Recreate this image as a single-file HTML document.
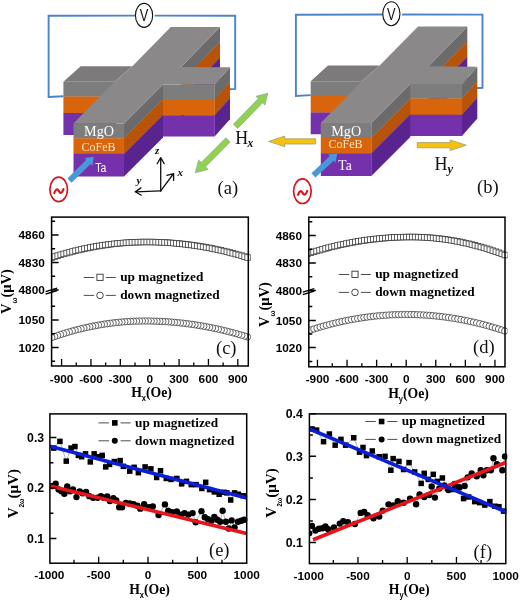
<!DOCTYPE html>
<html><head><meta charset="utf-8"><title>figure</title>
<style>html,body{margin:0;padding:0;background:#fff}svg{display:block}</style></head>
<body>
<svg width="520" height="604" viewBox="0 0 520 604">
<rect width="520" height="604" fill="#fff"/>
<g transform="translate(0,0)" fill="none" stroke="#4a84c6" stroke-width="1.9">
<polyline points="63.4,96.2 48.6,97 48.6,15.8 136,15.6"/>
<polyline points="154.8,15.6 235.2,15.7 235.2,88.9 222.3,89.7"/>
</g>
<g transform="translate(0,0)">
<ellipse cx="144.05" cy="15.4" rx="8.6" ry="12" fill="#fff" stroke="#111" stroke-width="1.1"/>
<text transform="translate(144.05,21.3) scale(0.8,1)" text-anchor="middle" font-family="Liberation Sans,sans-serif" font-size="16" fill="#111">V</text>
</g>
<g transform="translate(0,0)">
<polygon points="63.40,81.80 116.00,81.80 116.00,96.80 63.40,96.80" fill="#7e7d7d" />
<polygon points="63.40,96.50 116.00,96.50 116.00,113.30 63.40,113.30" fill="#d8640c" />
<polygon points="63.40,113.00 116.00,113.00 116.00,134.90 63.40,134.90" fill="#7531ac" />
<polygon points="220.00,27.10 181.10,66.90 181.10,81.90 220.00,42.10" fill="#6c6b6b" />
<polygon points="220.00,41.80 181.10,81.60 181.10,97.50 220.00,57.70" fill="#b7540a" />
<polygon points="220.00,57.40 181.10,97.20 181.10,118.50 220.00,78.70" fill="#59248f" />
<polygon points="214.60,84.60 230.00,67.30 230.00,82.10 214.60,99.40" fill="#6c6b6b" />
<polygon points="214.60,99.10 230.00,81.80 230.00,98.30 214.60,115.60" fill="#b7540a" />
<polygon points="214.60,115.30 230.00,98.00 230.00,119.20 214.60,136.50" fill="#59248f" />
<polygon points="162.60,84.60 214.80,84.60 214.80,99.40 162.60,99.40" fill="#7e7d7d" />
<polygon points="162.60,99.10 214.80,99.10 214.80,115.60 162.60,115.60" fill="#d8640c" />
<polygon points="162.60,115.30 214.80,115.30 214.80,136.50 162.60,136.50" fill="#7531ac" />
<polygon points="124.00,123.60 163.00,84.60 163.00,99.60 124.00,138.60" fill="#6c6b6b" />
<polygon points="124.00,138.30 163.00,99.30 163.00,115.10 124.00,154.10" fill="#b7540a" />
<polygon points="124.00,153.80 163.00,114.80 163.00,137.50 124.00,176.50" fill="#59248f" />
<polygon points="73.50,123.60 124.20,123.60 124.20,138.60 73.50,138.60" fill="#7e7d7d" />
<polygon points="73.50,138.30 124.20,138.30 124.20,154.10 73.50,154.10" fill="#d8640c" />
<polygon points="73.50,153.80 124.20,153.80 124.20,176.50 73.50,176.50" fill="#7531ac" />
<polygon points="63.40,81.80 80.70,66.20 132.30,66.20 114.40,81.80" fill="#7c7a7a" />
<polygon points="73.50,123.60 114.40,81.80 132.30,66.20 170.80,27.10 220.00,27.10 181.10,66.90 230.00,67.30 214.60,84.60 163.00,84.60 124.00,123.60" fill="#8a8888" />
</g>
<text x="99.1" y="136.2" text-anchor="middle" font-family="Liberation Serif,serif" font-size="14.2" fill="#fff">MgO</text>
<text x="98.5" y="151.4" text-anchor="middle" font-family="Liberation Serif,serif" font-size="12" fill="#fde6c8">CoFeB</text>
<text x="100.8" y="171.5" text-anchor="middle" font-family="Liberation Sans,sans-serif" font-size="12" textLength="11" lengthAdjust="spacingAndGlyphs" fill="#fff">Ta</text>
<polygon points="71.60,182.74 90.56,164.10 92.31,165.88 93.80,156.70 84.60,158.04 86.35,159.82 67.40,178.46" fill="#4a97d9" />
<ellipse cx="58.7" cy="189.4" rx="8.8" ry="12.3" fill="#fff" stroke="#d8141c" stroke-width="1.7"/>
<path d="M54.300000000000004,193.0 q2.2,-6.2 4.6,-1.9 q2.4,4.3 4.6,-1.9" fill="none" stroke="#d8141c" stroke-width="2.2" stroke-linecap="round"/>
<polygon points="237.65,128.40 262.61,102.81 264.94,105.08 267.80,93.20 255.99,96.35 258.32,98.62 233.35,124.20" fill="#92d050" stroke="#7fa8a0" stroke-width="0.7"/>
<polygon points="225.87,137.79 201.28,162.53 198.62,159.89 195.30,172.80 208.19,169.40 205.53,166.76 230.13,142.01" fill="#92d050" stroke="#7fa8a0" stroke-width="0.7"/>
<text x="235.2" y="144.2" font-family="Liberation Serif,serif" font-size="17.9" fill="#111">H</text>
<text x="247.4" y="147.4" font-family="Liberation Serif,serif" font-weight="bold" font-style="italic" font-size="11.5" fill="#111">x</text>
<text x="217.6" y="193.8" font-family="Liberation Serif,serif" font-size="18.5" fill="#111">(a)</text>
<g stroke="#111" stroke-width="1.3" fill="none" stroke-linecap="round" stroke-linejoin="round">
<path d="M160.7,190.9 V158 M157.2,163.8 L160.7,157.6 L164.2,163.8"/>
<path d="M160.7,190.9 L173.3,174 M167,175.3 L173.6,173.6 L173.6,180.4"/>
<path d="M160.7,190.9 L135.6,191.8 M141,187.9 L135.2,191.8 L141.3,195.3"/>
</g>
<text x="155" y="153.5" font-family="Liberation Serif,serif" font-weight="bold" font-style="italic" font-size="11" fill="#111">z</text>
<text x="177.5" y="176.3" font-family="Liberation Serif,serif" font-weight="bold" font-style="italic" font-size="11" fill="#111">x</text>
<text x="136.6" y="183.7" font-family="Liberation Serif,serif" font-weight="bold" font-style="italic" font-size="11" fill="#111">y</text>
<g transform="translate(247.3,-1.1)" fill="none" stroke="#4a84c6" stroke-width="1.9">
<polyline points="63.4,96.2 48.6,97 48.6,15.8 136,15.6"/>
<polyline points="154.8,15.6 235.2,15.7 235.2,88.9 222.3,89.7"/>
</g>
<g transform="translate(247.3,-1.7000000000000002)">
<ellipse cx="144.05" cy="15.4" rx="8.6" ry="12" fill="#fff" stroke="#111" stroke-width="1.1"/>
<text transform="translate(144.05,21.3) scale(0.8,1)" text-anchor="middle" font-family="Liberation Sans,sans-serif" font-size="16" fill="#111">V</text>
</g>
<g transform="translate(247.3,-0.6)">
<polygon points="63.40,81.80 116.00,81.80 116.00,96.80 63.40,96.80" fill="#7e7d7d" />
<polygon points="63.40,96.50 116.00,96.50 116.00,113.30 63.40,113.30" fill="#d8640c" />
<polygon points="63.40,113.00 116.00,113.00 116.00,134.90 63.40,134.90" fill="#7531ac" />
<polygon points="220.00,27.10 181.10,66.90 181.10,81.90 220.00,42.10" fill="#6c6b6b" />
<polygon points="220.00,41.80 181.10,81.60 181.10,97.50 220.00,57.70" fill="#b7540a" />
<polygon points="220.00,57.40 181.10,97.20 181.10,118.50 220.00,78.70" fill="#59248f" />
<polygon points="214.60,84.60 230.00,67.30 230.00,82.10 214.60,99.40" fill="#6c6b6b" />
<polygon points="214.60,99.10 230.00,81.80 230.00,98.30 214.60,115.60" fill="#b7540a" />
<polygon points="214.60,115.30 230.00,98.00 230.00,119.20 214.60,136.50" fill="#59248f" />
<polygon points="162.60,84.60 214.80,84.60 214.80,99.40 162.60,99.40" fill="#7e7d7d" />
<polygon points="162.60,99.10 214.80,99.10 214.80,115.60 162.60,115.60" fill="#d8640c" />
<polygon points="162.60,115.30 214.80,115.30 214.80,136.50 162.60,136.50" fill="#7531ac" />
<polygon points="124.00,123.60 163.00,84.60 163.00,99.60 124.00,138.60" fill="#6c6b6b" />
<polygon points="124.00,138.30 163.00,99.30 163.00,115.10 124.00,154.10" fill="#b7540a" />
<polygon points="124.00,153.80 163.00,114.80 163.00,137.50 124.00,176.50" fill="#59248f" />
<polygon points="73.50,123.60 124.20,123.60 124.20,138.60 73.50,138.60" fill="#7e7d7d" />
<polygon points="73.50,138.30 124.20,138.30 124.20,154.10 73.50,154.10" fill="#d8640c" />
<polygon points="73.50,153.80 124.20,153.80 124.20,176.50 73.50,176.50" fill="#7531ac" />
<polygon points="63.40,81.80 80.70,66.20 132.30,66.20 114.40,81.80" fill="#7c7a7a" />
<polygon points="73.50,123.60 114.40,81.80 132.30,66.20 170.80,27.10 220.00,27.10 181.10,66.90 230.00,67.30 214.60,84.60 163.00,84.60 124.00,123.60" fill="#8a8888" />
</g>
<text x="346.2" y="136.2" text-anchor="middle" font-family="Liberation Serif,serif" font-size="14.2" fill="#fff">MgO</text>
<text x="345.5" y="148.2" text-anchor="middle" font-family="Liberation Serif,serif" font-size="12" fill="#fde6c8">CoFeB</text>
<text x="345" y="170" text-anchor="middle" font-family="Liberation Serif,serif" font-size="13.6" fill="#fff">Ta</text>
<polygon points="315.43,177.61 333.71,160.79 335.41,162.63 337.20,153.50 327.96,154.53 329.65,156.37 311.37,173.19" fill="#4a97d9" />
<ellipse cx="302.4" cy="191.2" rx="8.8" ry="12.3" fill="#fff" stroke="#d8141c" stroke-width="1.7"/>
<path d="M298.0,194.79999999999998 q2.2,-6.2 4.6,-1.9 q2.4,4.3 4.6,-1.9" fill="none" stroke="#d8141c" stroke-width="2.2" stroke-linecap="round"/>
<polygon points="315.60,138.80 284.70,138.80 284.70,136.10 268.70,141.40 284.70,146.70 284.70,144.00 315.60,144.00" fill="#f4c20f" stroke="#a39a6a" stroke-width="0.8"/>
<polygon points="417.20,147.80 450.20,147.80 450.20,150.50 466.20,145.20 450.20,139.90 450.20,142.60 417.20,142.60" fill="#f4c20f" stroke="#a39a6a" stroke-width="0.8"/>
<text x="434.5" y="169.5" font-family="Liberation Serif,serif" font-size="18" fill="#111">H</text>
<text x="447.5" y="173.4" font-family="Liberation Serif,serif" font-weight="bold" font-style="italic" font-size="12.5" fill="#111">y</text>
<text x="477" y="193" font-family="Liberation Serif,serif" font-size="18.5" fill="#111">(b)</text>
<clipPath id="clipx51"><rect x="51.6" y="217.1" width="199.20000000000002" height="148.9"/></clipPath>
<g clip-path="url(#clipx51)">
<rect x="49.00" y="254.70" width="5.6" height="5.6" fill="#fff" stroke="#3a3a3a" stroke-width="0.8"/>
<rect x="51.97" y="253.75" width="5.6" height="5.6" fill="#fff" stroke="#3a3a3a" stroke-width="0.8"/>
<rect x="54.93" y="252.82" width="5.6" height="5.6" fill="#fff" stroke="#3a3a3a" stroke-width="0.8"/>
<rect x="57.90" y="251.93" width="5.6" height="5.6" fill="#fff" stroke="#3a3a3a" stroke-width="0.8"/>
<rect x="60.87" y="251.07" width="5.6" height="5.6" fill="#fff" stroke="#3a3a3a" stroke-width="0.8"/>
<rect x="63.83" y="250.24" width="5.6" height="5.6" fill="#fff" stroke="#3a3a3a" stroke-width="0.8"/>
<rect x="66.80" y="249.43" width="5.6" height="5.6" fill="#fff" stroke="#3a3a3a" stroke-width="0.8"/>
<rect x="69.77" y="248.66" width="5.6" height="5.6" fill="#fff" stroke="#3a3a3a" stroke-width="0.8"/>
<rect x="72.73" y="247.92" width="5.6" height="5.6" fill="#fff" stroke="#3a3a3a" stroke-width="0.8"/>
<rect x="75.70" y="247.21" width="5.6" height="5.6" fill="#fff" stroke="#3a3a3a" stroke-width="0.8"/>
<rect x="78.67" y="246.53" width="5.6" height="5.6" fill="#fff" stroke="#3a3a3a" stroke-width="0.8"/>
<rect x="81.63" y="245.88" width="5.6" height="5.6" fill="#fff" stroke="#3a3a3a" stroke-width="0.8"/>
<rect x="84.60" y="245.26" width="5.6" height="5.6" fill="#fff" stroke="#3a3a3a" stroke-width="0.8"/>
<rect x="87.57" y="244.67" width="5.6" height="5.6" fill="#fff" stroke="#3a3a3a" stroke-width="0.8"/>
<rect x="90.53" y="244.11" width="5.6" height="5.6" fill="#fff" stroke="#3a3a3a" stroke-width="0.8"/>
<rect x="93.50" y="243.58" width="5.6" height="5.6" fill="#fff" stroke="#3a3a3a" stroke-width="0.8"/>
<rect x="96.47" y="243.08" width="5.6" height="5.6" fill="#fff" stroke="#3a3a3a" stroke-width="0.8"/>
<rect x="99.43" y="242.61" width="5.6" height="5.6" fill="#fff" stroke="#3a3a3a" stroke-width="0.8"/>
<rect x="102.40" y="242.17" width="5.6" height="5.6" fill="#fff" stroke="#3a3a3a" stroke-width="0.8"/>
<rect x="105.37" y="241.76" width="5.6" height="5.6" fill="#fff" stroke="#3a3a3a" stroke-width="0.8"/>
<rect x="108.33" y="241.38" width="5.6" height="5.6" fill="#fff" stroke="#3a3a3a" stroke-width="0.8"/>
<rect x="111.30" y="241.03" width="5.6" height="5.6" fill="#fff" stroke="#3a3a3a" stroke-width="0.8"/>
<rect x="114.27" y="240.72" width="5.6" height="5.6" fill="#fff" stroke="#3a3a3a" stroke-width="0.8"/>
<rect x="117.23" y="240.43" width="5.6" height="5.6" fill="#fff" stroke="#3a3a3a" stroke-width="0.8"/>
<rect x="120.20" y="240.17" width="5.6" height="5.6" fill="#fff" stroke="#3a3a3a" stroke-width="0.8"/>
<rect x="123.17" y="239.94" width="5.6" height="5.6" fill="#fff" stroke="#3a3a3a" stroke-width="0.8"/>
<rect x="126.13" y="239.75" width="5.6" height="5.6" fill="#fff" stroke="#3a3a3a" stroke-width="0.8"/>
<rect x="129.10" y="239.58" width="5.6" height="5.6" fill="#fff" stroke="#3a3a3a" stroke-width="0.8"/>
<rect x="132.07" y="239.44" width="5.6" height="5.6" fill="#fff" stroke="#3a3a3a" stroke-width="0.8"/>
<rect x="135.03" y="239.34" width="5.6" height="5.6" fill="#fff" stroke="#3a3a3a" stroke-width="0.8"/>
<rect x="138.00" y="239.26" width="5.6" height="5.6" fill="#fff" stroke="#3a3a3a" stroke-width="0.8"/>
<rect x="140.97" y="239.22" width="5.6" height="5.6" fill="#fff" stroke="#3a3a3a" stroke-width="0.8"/>
<rect x="143.93" y="239.20" width="5.6" height="5.6" fill="#fff" stroke="#3a3a3a" stroke-width="0.8"/>
<rect x="146.90" y="239.21" width="5.6" height="5.6" fill="#fff" stroke="#3a3a3a" stroke-width="0.8"/>
<rect x="149.87" y="239.25" width="5.6" height="5.6" fill="#fff" stroke="#3a3a3a" stroke-width="0.8"/>
<rect x="152.83" y="239.32" width="5.6" height="5.6" fill="#fff" stroke="#3a3a3a" stroke-width="0.8"/>
<rect x="155.80" y="239.41" width="5.6" height="5.6" fill="#fff" stroke="#3a3a3a" stroke-width="0.8"/>
<rect x="158.77" y="239.53" width="5.6" height="5.6" fill="#fff" stroke="#3a3a3a" stroke-width="0.8"/>
<rect x="161.73" y="239.68" width="5.6" height="5.6" fill="#fff" stroke="#3a3a3a" stroke-width="0.8"/>
<rect x="164.70" y="239.86" width="5.6" height="5.6" fill="#fff" stroke="#3a3a3a" stroke-width="0.8"/>
<rect x="167.67" y="240.06" width="5.6" height="5.6" fill="#fff" stroke="#3a3a3a" stroke-width="0.8"/>
<rect x="170.63" y="240.28" width="5.6" height="5.6" fill="#fff" stroke="#3a3a3a" stroke-width="0.8"/>
<rect x="173.60" y="240.54" width="5.6" height="5.6" fill="#fff" stroke="#3a3a3a" stroke-width="0.8"/>
<rect x="176.57" y="240.82" width="5.6" height="5.6" fill="#fff" stroke="#3a3a3a" stroke-width="0.8"/>
<rect x="179.53" y="241.13" width="5.6" height="5.6" fill="#fff" stroke="#3a3a3a" stroke-width="0.8"/>
<rect x="182.50" y="241.46" width="5.6" height="5.6" fill="#fff" stroke="#3a3a3a" stroke-width="0.8"/>
<rect x="185.47" y="241.83" width="5.6" height="5.6" fill="#fff" stroke="#3a3a3a" stroke-width="0.8"/>
<rect x="188.43" y="242.21" width="5.6" height="5.6" fill="#fff" stroke="#3a3a3a" stroke-width="0.8"/>
<rect x="191.40" y="242.63" width="5.6" height="5.6" fill="#fff" stroke="#3a3a3a" stroke-width="0.8"/>
<rect x="194.37" y="243.07" width="5.6" height="5.6" fill="#fff" stroke="#3a3a3a" stroke-width="0.8"/>
<rect x="197.33" y="243.54" width="5.6" height="5.6" fill="#fff" stroke="#3a3a3a" stroke-width="0.8"/>
<rect x="200.30" y="244.04" width="5.6" height="5.6" fill="#fff" stroke="#3a3a3a" stroke-width="0.8"/>
<rect x="203.27" y="244.56" width="5.6" height="5.6" fill="#fff" stroke="#3a3a3a" stroke-width="0.8"/>
<rect x="206.23" y="245.11" width="5.6" height="5.6" fill="#fff" stroke="#3a3a3a" stroke-width="0.8"/>
<rect x="209.20" y="245.69" width="5.6" height="5.6" fill="#fff" stroke="#3a3a3a" stroke-width="0.8"/>
<rect x="212.17" y="246.29" width="5.6" height="5.6" fill="#fff" stroke="#3a3a3a" stroke-width="0.8"/>
<rect x="215.13" y="246.92" width="5.6" height="5.6" fill="#fff" stroke="#3a3a3a" stroke-width="0.8"/>
<rect x="218.10" y="247.58" width="5.6" height="5.6" fill="#fff" stroke="#3a3a3a" stroke-width="0.8"/>
<rect x="221.07" y="248.26" width="5.6" height="5.6" fill="#fff" stroke="#3a3a3a" stroke-width="0.8"/>
<rect x="224.03" y="248.97" width="5.6" height="5.6" fill="#fff" stroke="#3a3a3a" stroke-width="0.8"/>
<rect x="227.00" y="249.71" width="5.6" height="5.6" fill="#fff" stroke="#3a3a3a" stroke-width="0.8"/>
<rect x="229.97" y="250.48" width="5.6" height="5.6" fill="#fff" stroke="#3a3a3a" stroke-width="0.8"/>
<rect x="232.93" y="251.27" width="5.6" height="5.6" fill="#fff" stroke="#3a3a3a" stroke-width="0.8"/>
<rect x="235.90" y="252.08" width="5.6" height="5.6" fill="#fff" stroke="#3a3a3a" stroke-width="0.8"/>
<rect x="238.87" y="252.93" width="5.6" height="5.6" fill="#fff" stroke="#3a3a3a" stroke-width="0.8"/>
<rect x="241.83" y="253.80" width="5.6" height="5.6" fill="#fff" stroke="#3a3a3a" stroke-width="0.8"/>
<rect x="244.80" y="254.70" width="5.6" height="5.6" fill="#fff" stroke="#3a3a3a" stroke-width="0.8"/>
<circle cx="247.60" cy="337.00" r="3.2" fill="#fff" stroke="#3a3a3a" stroke-width="0.8"/>
<circle cx="244.68" cy="336.10" r="3.2" fill="#fff" stroke="#3a3a3a" stroke-width="0.8"/>
<circle cx="241.76" cy="335.23" r="3.2" fill="#fff" stroke="#3a3a3a" stroke-width="0.8"/>
<circle cx="238.83" cy="334.39" r="3.2" fill="#fff" stroke="#3a3a3a" stroke-width="0.8"/>
<circle cx="235.91" cy="333.57" r="3.2" fill="#fff" stroke="#3a3a3a" stroke-width="0.8"/>
<circle cx="232.99" cy="332.77" r="3.2" fill="#fff" stroke="#3a3a3a" stroke-width="0.8"/>
<circle cx="230.07" cy="332.01" r="3.2" fill="#fff" stroke="#3a3a3a" stroke-width="0.8"/>
<circle cx="227.14" cy="331.27" r="3.2" fill="#fff" stroke="#3a3a3a" stroke-width="0.8"/>
<circle cx="224.22" cy="330.55" r="3.2" fill="#fff" stroke="#3a3a3a" stroke-width="0.8"/>
<circle cx="221.30" cy="329.86" r="3.2" fill="#fff" stroke="#3a3a3a" stroke-width="0.8"/>
<circle cx="218.38" cy="329.20" r="3.2" fill="#fff" stroke="#3a3a3a" stroke-width="0.8"/>
<circle cx="215.45" cy="328.56" r="3.2" fill="#fff" stroke="#3a3a3a" stroke-width="0.8"/>
<circle cx="212.53" cy="327.95" r="3.2" fill="#fff" stroke="#3a3a3a" stroke-width="0.8"/>
<circle cx="209.61" cy="327.36" r="3.2" fill="#fff" stroke="#3a3a3a" stroke-width="0.8"/>
<circle cx="206.69" cy="326.80" r="3.2" fill="#fff" stroke="#3a3a3a" stroke-width="0.8"/>
<circle cx="203.76" cy="326.26" r="3.2" fill="#fff" stroke="#3a3a3a" stroke-width="0.8"/>
<circle cx="200.84" cy="325.75" r="3.2" fill="#fff" stroke="#3a3a3a" stroke-width="0.8"/>
<circle cx="197.92" cy="325.27" r="3.2" fill="#fff" stroke="#3a3a3a" stroke-width="0.8"/>
<circle cx="195.00" cy="324.81" r="3.2" fill="#fff" stroke="#3a3a3a" stroke-width="0.8"/>
<circle cx="192.07" cy="324.38" r="3.2" fill="#fff" stroke="#3a3a3a" stroke-width="0.8"/>
<circle cx="189.15" cy="323.98" r="3.2" fill="#fff" stroke="#3a3a3a" stroke-width="0.8"/>
<circle cx="186.23" cy="323.60" r="3.2" fill="#fff" stroke="#3a3a3a" stroke-width="0.8"/>
<circle cx="183.31" cy="323.24" r="3.2" fill="#fff" stroke="#3a3a3a" stroke-width="0.8"/>
<circle cx="180.39" cy="322.92" r="3.2" fill="#fff" stroke="#3a3a3a" stroke-width="0.8"/>
<circle cx="177.46" cy="322.61" r="3.2" fill="#fff" stroke="#3a3a3a" stroke-width="0.8"/>
<circle cx="174.54" cy="322.34" r="3.2" fill="#fff" stroke="#3a3a3a" stroke-width="0.8"/>
<circle cx="171.62" cy="322.09" r="3.2" fill="#fff" stroke="#3a3a3a" stroke-width="0.8"/>
<circle cx="168.70" cy="321.86" r="3.2" fill="#fff" stroke="#3a3a3a" stroke-width="0.8"/>
<circle cx="165.77" cy="321.67" r="3.2" fill="#fff" stroke="#3a3a3a" stroke-width="0.8"/>
<circle cx="162.85" cy="321.49" r="3.2" fill="#fff" stroke="#3a3a3a" stroke-width="0.8"/>
<circle cx="159.93" cy="321.35" r="3.2" fill="#fff" stroke="#3a3a3a" stroke-width="0.8"/>
<circle cx="157.01" cy="321.23" r="3.2" fill="#fff" stroke="#3a3a3a" stroke-width="0.8"/>
<circle cx="154.08" cy="321.13" r="3.2" fill="#fff" stroke="#3a3a3a" stroke-width="0.8"/>
<circle cx="151.16" cy="321.06" r="3.2" fill="#fff" stroke="#3a3a3a" stroke-width="0.8"/>
<circle cx="148.24" cy="321.02" r="3.2" fill="#fff" stroke="#3a3a3a" stroke-width="0.8"/>
<circle cx="145.32" cy="321.00" r="3.2" fill="#fff" stroke="#3a3a3a" stroke-width="0.8"/>
<circle cx="142.39" cy="321.01" r="3.2" fill="#fff" stroke="#3a3a3a" stroke-width="0.8"/>
<circle cx="139.47" cy="321.05" r="3.2" fill="#fff" stroke="#3a3a3a" stroke-width="0.8"/>
<circle cx="136.55" cy="321.13" r="3.2" fill="#fff" stroke="#3a3a3a" stroke-width="0.8"/>
<circle cx="133.63" cy="321.24" r="3.2" fill="#fff" stroke="#3a3a3a" stroke-width="0.8"/>
<circle cx="130.70" cy="321.38" r="3.2" fill="#fff" stroke="#3a3a3a" stroke-width="0.8"/>
<circle cx="127.78" cy="321.55" r="3.2" fill="#fff" stroke="#3a3a3a" stroke-width="0.8"/>
<circle cx="124.86" cy="321.76" r="3.2" fill="#fff" stroke="#3a3a3a" stroke-width="0.8"/>
<circle cx="121.94" cy="322.00" r="3.2" fill="#fff" stroke="#3a3a3a" stroke-width="0.8"/>
<circle cx="119.01" cy="322.27" r="3.2" fill="#fff" stroke="#3a3a3a" stroke-width="0.8"/>
<circle cx="116.09" cy="322.57" r="3.2" fill="#fff" stroke="#3a3a3a" stroke-width="0.8"/>
<circle cx="113.17" cy="322.91" r="3.2" fill="#fff" stroke="#3a3a3a" stroke-width="0.8"/>
<circle cx="110.25" cy="323.28" r="3.2" fill="#fff" stroke="#3a3a3a" stroke-width="0.8"/>
<circle cx="107.33" cy="323.68" r="3.2" fill="#fff" stroke="#3a3a3a" stroke-width="0.8"/>
<circle cx="104.40" cy="324.11" r="3.2" fill="#fff" stroke="#3a3a3a" stroke-width="0.8"/>
<circle cx="101.48" cy="324.58" r="3.2" fill="#fff" stroke="#3a3a3a" stroke-width="0.8"/>
<circle cx="98.56" cy="325.08" r="3.2" fill="#fff" stroke="#3a3a3a" stroke-width="0.8"/>
<circle cx="95.64" cy="325.61" r="3.2" fill="#fff" stroke="#3a3a3a" stroke-width="0.8"/>
<circle cx="92.71" cy="326.18" r="3.2" fill="#fff" stroke="#3a3a3a" stroke-width="0.8"/>
<circle cx="89.79" cy="326.77" r="3.2" fill="#fff" stroke="#3a3a3a" stroke-width="0.8"/>
<circle cx="86.87" cy="327.40" r="3.2" fill="#fff" stroke="#3a3a3a" stroke-width="0.8"/>
<circle cx="83.95" cy="328.07" r="3.2" fill="#fff" stroke="#3a3a3a" stroke-width="0.8"/>
<circle cx="81.02" cy="328.76" r="3.2" fill="#fff" stroke="#3a3a3a" stroke-width="0.8"/>
<circle cx="78.10" cy="329.49" r="3.2" fill="#fff" stroke="#3a3a3a" stroke-width="0.8"/>
<circle cx="75.18" cy="330.25" r="3.2" fill="#fff" stroke="#3a3a3a" stroke-width="0.8"/>
<circle cx="72.26" cy="331.04" r="3.2" fill="#fff" stroke="#3a3a3a" stroke-width="0.8"/>
<circle cx="69.33" cy="331.86" r="3.2" fill="#fff" stroke="#3a3a3a" stroke-width="0.8"/>
<circle cx="66.41" cy="332.72" r="3.2" fill="#fff" stroke="#3a3a3a" stroke-width="0.8"/>
<circle cx="63.49" cy="333.61" r="3.2" fill="#fff" stroke="#3a3a3a" stroke-width="0.8"/>
<circle cx="60.57" cy="334.54" r="3.2" fill="#fff" stroke="#3a3a3a" stroke-width="0.8"/>
<circle cx="57.64" cy="335.49" r="3.2" fill="#fff" stroke="#3a3a3a" stroke-width="0.8"/>
<circle cx="54.72" cy="336.48" r="3.2" fill="#fff" stroke="#3a3a3a" stroke-width="0.8"/>
<circle cx="51.80" cy="337.50" r="3.2" fill="#fff" stroke="#3a3a3a" stroke-width="0.8"/>
</g>
<rect x="51.6" y="217.1" width="196.70000000000002" height="148.9" fill="none" stroke="#000" stroke-width="1.5"/>
<path d="M51.6,235.00h7 M51.6,262.50h7 M51.6,290.00h7 M51.6,320.00h7 M51.6,347.50h7" stroke="#000" stroke-width="1.3" fill="none"/>
<path d="M51.6,221.25h3.5 M51.6,248.75h3.5 M51.6,276.25h3.5 M51.6,306.25h3.5 M51.6,333.75h3.5 M51.6,361.25h3.5" stroke="#000" stroke-width="1.3" fill="none"/>
<path d="M61.59,366v-7 M90.96,366v-7 M120.33,366v-7 M149.70,366v-7 M179.07,366v-7 M208.44,366v-7 M237.81,366v-7" stroke="#000" stroke-width="1.3" fill="none"/>
<path d="M76.27,366v-3.5 M105.64,366v-3.5 M135.01,366v-3.5 M164.38,366v-3.5 M193.75,366v-3.5 M223.12,366v-3.5" stroke="#000" stroke-width="1.3" fill="none"/>
<text x="44.8" y="239.25" text-anchor="end" font-family="Liberation Sans,sans-serif" font-weight="bold" font-size="11.8" fill="#000">4860</text>
<text x="44.8" y="266.75" text-anchor="end" font-family="Liberation Sans,sans-serif" font-weight="bold" font-size="11.8" fill="#000">4830</text>
<text x="44.8" y="294.25" text-anchor="end" font-family="Liberation Sans,sans-serif" font-weight="bold" font-size="11.8" fill="#000">4800</text>
<text x="44.8" y="324.25" text-anchor="end" font-family="Liberation Sans,sans-serif" font-weight="bold" font-size="11.8" fill="#000">1050</text>
<text x="44.8" y="351.75" text-anchor="end" font-family="Liberation Sans,sans-serif" font-weight="bold" font-size="11.8" fill="#000">1020</text>
<text x="61.59" y="382.7" text-anchor="middle" font-family="Liberation Sans,sans-serif" font-weight="bold" font-size="11.8" fill="#000">-900</text>
<text x="90.96" y="382.7" text-anchor="middle" font-family="Liberation Sans,sans-serif" font-weight="bold" font-size="11.8" fill="#000">-600</text>
<text x="120.33" y="382.7" text-anchor="middle" font-family="Liberation Sans,sans-serif" font-weight="bold" font-size="11.8" fill="#000">-300</text>
<text x="149.70" y="382.7" text-anchor="middle" font-family="Liberation Sans,sans-serif" font-weight="bold" font-size="11.8" fill="#000">0</text>
<text x="179.07" y="382.7" text-anchor="middle" font-family="Liberation Sans,sans-serif" font-weight="bold" font-size="11.8" fill="#000">300</text>
<text x="208.44" y="382.7" text-anchor="middle" font-family="Liberation Sans,sans-serif" font-weight="bold" font-size="11.8" fill="#000">600</text>
<text x="237.81" y="382.7" text-anchor="middle" font-family="Liberation Sans,sans-serif" font-weight="bold" font-size="11.8" fill="#000">900</text>
<path d="M45.6,291.7L57.1,288.1M45.6,294.1L57.1,290.5" stroke="#000" stroke-width="1.4" fill="none"/>
<path d="M83.7,277.5H94.2M105.8,277.5H115.8M83.7,295.4H94.2M105.8,295.4H115.8" stroke="#3a3a3a" stroke-width="0.9" fill="none"/>
<rect x="96.9" y="274.2" width="6.2" height="6.2" fill="#fff" stroke="#333" stroke-width="0.9"/>
<circle cx="100" cy="295.4" r="3.3" fill="#fff" stroke="#333" stroke-width="0.9"/>
<text x="120.2" y="281.3" font-family="Liberation Serif,serif" font-weight="bold" font-size="13.3" fill="#000">up magnetized</text>
<text x="120.2" y="299.2" font-family="Liberation Serif,serif" font-weight="bold" font-size="13.3" fill="#000">down magnetized</text>
<text transform="translate(10.5,291.5) rotate(-90)" text-anchor="middle" font-family="Liberation Serif,serif" font-weight="bold" font-size="14.5" fill="#000">V<tspan font-family="Liberation Sans,sans-serif" font-size="7" dy="6">ω</tspan><tspan dy="-6">(μV)</tspan></text>
<text transform="translate(151.5,397) scale(0.915,1)" text-anchor="middle" font-family="Liberation Serif,serif" font-weight="bold" font-size="15" fill="#000">H<tspan font-family="Liberation Sans,sans-serif" font-size="8.2" dy="4">x</tspan><tspan dy="-4">(Oe)</tspan></text>
<text x="216" y="353.5" font-family="Liberation Serif,serif" font-size="18.5" fill="#111">(c)</text>
<clipPath id="clipy308"><rect x="308.8" y="217.2" width="198.7" height="149.60000000000002"/></clipPath>
<g clip-path="url(#clipy308)">
<rect x="304.80" y="250.95" width="5.6" height="5.6" fill="#fff" stroke="#3a3a3a" stroke-width="0.8"/>
<rect x="307.79" y="250.00" width="5.6" height="5.6" fill="#fff" stroke="#3a3a3a" stroke-width="0.8"/>
<rect x="310.78" y="249.07" width="5.6" height="5.6" fill="#fff" stroke="#3a3a3a" stroke-width="0.8"/>
<rect x="313.76" y="248.18" width="5.6" height="5.6" fill="#fff" stroke="#3a3a3a" stroke-width="0.8"/>
<rect x="316.75" y="247.31" width="5.6" height="5.6" fill="#fff" stroke="#3a3a3a" stroke-width="0.8"/>
<rect x="319.74" y="246.46" width="5.6" height="5.6" fill="#fff" stroke="#3a3a3a" stroke-width="0.8"/>
<rect x="322.73" y="245.65" width="5.6" height="5.6" fill="#fff" stroke="#3a3a3a" stroke-width="0.8"/>
<rect x="325.72" y="244.87" width="5.6" height="5.6" fill="#fff" stroke="#3a3a3a" stroke-width="0.8"/>
<rect x="328.70" y="244.11" width="5.6" height="5.6" fill="#fff" stroke="#3a3a3a" stroke-width="0.8"/>
<rect x="331.69" y="243.38" width="5.6" height="5.6" fill="#fff" stroke="#3a3a3a" stroke-width="0.8"/>
<rect x="334.68" y="242.68" width="5.6" height="5.6" fill="#fff" stroke="#3a3a3a" stroke-width="0.8"/>
<rect x="337.67" y="242.00" width="5.6" height="5.6" fill="#fff" stroke="#3a3a3a" stroke-width="0.8"/>
<rect x="340.65" y="241.36" width="5.6" height="5.6" fill="#fff" stroke="#3a3a3a" stroke-width="0.8"/>
<rect x="343.64" y="240.74" width="5.6" height="5.6" fill="#fff" stroke="#3a3a3a" stroke-width="0.8"/>
<rect x="346.63" y="240.15" width="5.6" height="5.6" fill="#fff" stroke="#3a3a3a" stroke-width="0.8"/>
<rect x="349.62" y="239.59" width="5.6" height="5.6" fill="#fff" stroke="#3a3a3a" stroke-width="0.8"/>
<rect x="352.61" y="239.05" width="5.6" height="5.6" fill="#fff" stroke="#3a3a3a" stroke-width="0.8"/>
<rect x="355.59" y="238.55" width="5.6" height="5.6" fill="#fff" stroke="#3a3a3a" stroke-width="0.8"/>
<rect x="358.58" y="238.07" width="5.6" height="5.6" fill="#fff" stroke="#3a3a3a" stroke-width="0.8"/>
<rect x="361.57" y="237.62" width="5.6" height="5.6" fill="#fff" stroke="#3a3a3a" stroke-width="0.8"/>
<rect x="364.56" y="237.19" width="5.6" height="5.6" fill="#fff" stroke="#3a3a3a" stroke-width="0.8"/>
<rect x="367.55" y="236.80" width="5.6" height="5.6" fill="#fff" stroke="#3a3a3a" stroke-width="0.8"/>
<rect x="370.53" y="236.43" width="5.6" height="5.6" fill="#fff" stroke="#3a3a3a" stroke-width="0.8"/>
<rect x="373.52" y="236.09" width="5.6" height="5.6" fill="#fff" stroke="#3a3a3a" stroke-width="0.8"/>
<rect x="376.51" y="235.78" width="5.6" height="5.6" fill="#fff" stroke="#3a3a3a" stroke-width="0.8"/>
<rect x="379.50" y="235.50" width="5.6" height="5.6" fill="#fff" stroke="#3a3a3a" stroke-width="0.8"/>
<rect x="382.48" y="235.24" width="5.6" height="5.6" fill="#fff" stroke="#3a3a3a" stroke-width="0.8"/>
<rect x="385.47" y="235.02" width="5.6" height="5.6" fill="#fff" stroke="#3a3a3a" stroke-width="0.8"/>
<rect x="388.46" y="234.82" width="5.6" height="5.6" fill="#fff" stroke="#3a3a3a" stroke-width="0.8"/>
<rect x="391.45" y="234.65" width="5.6" height="5.6" fill="#fff" stroke="#3a3a3a" stroke-width="0.8"/>
<rect x="394.44" y="234.50" width="5.6" height="5.6" fill="#fff" stroke="#3a3a3a" stroke-width="0.8"/>
<rect x="397.42" y="234.39" width="5.6" height="5.6" fill="#fff" stroke="#3a3a3a" stroke-width="0.8"/>
<rect x="400.41" y="234.30" width="5.6" height="5.6" fill="#fff" stroke="#3a3a3a" stroke-width="0.8"/>
<rect x="403.40" y="234.24" width="5.6" height="5.6" fill="#fff" stroke="#3a3a3a" stroke-width="0.8"/>
<rect x="406.39" y="234.21" width="5.6" height="5.6" fill="#fff" stroke="#3a3a3a" stroke-width="0.8"/>
<rect x="409.38" y="234.20" width="5.6" height="5.6" fill="#fff" stroke="#3a3a3a" stroke-width="0.8"/>
<rect x="412.36" y="234.23" width="5.6" height="5.6" fill="#fff" stroke="#3a3a3a" stroke-width="0.8"/>
<rect x="415.35" y="234.30" width="5.6" height="5.6" fill="#fff" stroke="#3a3a3a" stroke-width="0.8"/>
<rect x="418.34" y="234.41" width="5.6" height="5.6" fill="#fff" stroke="#3a3a3a" stroke-width="0.8"/>
<rect x="421.33" y="234.55" width="5.6" height="5.6" fill="#fff" stroke="#3a3a3a" stroke-width="0.8"/>
<rect x="424.32" y="234.72" width="5.6" height="5.6" fill="#fff" stroke="#3a3a3a" stroke-width="0.8"/>
<rect x="427.30" y="234.94" width="5.6" height="5.6" fill="#fff" stroke="#3a3a3a" stroke-width="0.8"/>
<rect x="430.29" y="235.19" width="5.6" height="5.6" fill="#fff" stroke="#3a3a3a" stroke-width="0.8"/>
<rect x="433.28" y="235.48" width="5.6" height="5.6" fill="#fff" stroke="#3a3a3a" stroke-width="0.8"/>
<rect x="436.27" y="235.80" width="5.6" height="5.6" fill="#fff" stroke="#3a3a3a" stroke-width="0.8"/>
<rect x="439.25" y="236.16" width="5.6" height="5.6" fill="#fff" stroke="#3a3a3a" stroke-width="0.8"/>
<rect x="442.24" y="236.56" width="5.6" height="5.6" fill="#fff" stroke="#3a3a3a" stroke-width="0.8"/>
<rect x="445.23" y="236.99" width="5.6" height="5.6" fill="#fff" stroke="#3a3a3a" stroke-width="0.8"/>
<rect x="448.22" y="237.46" width="5.6" height="5.6" fill="#fff" stroke="#3a3a3a" stroke-width="0.8"/>
<rect x="451.21" y="237.97" width="5.6" height="5.6" fill="#fff" stroke="#3a3a3a" stroke-width="0.8"/>
<rect x="454.19" y="238.52" width="5.6" height="5.6" fill="#fff" stroke="#3a3a3a" stroke-width="0.8"/>
<rect x="457.18" y="239.10" width="5.6" height="5.6" fill="#fff" stroke="#3a3a3a" stroke-width="0.8"/>
<rect x="460.17" y="239.71" width="5.6" height="5.6" fill="#fff" stroke="#3a3a3a" stroke-width="0.8"/>
<rect x="463.16" y="240.37" width="5.6" height="5.6" fill="#fff" stroke="#3a3a3a" stroke-width="0.8"/>
<rect x="466.15" y="241.06" width="5.6" height="5.6" fill="#fff" stroke="#3a3a3a" stroke-width="0.8"/>
<rect x="469.13" y="241.78" width="5.6" height="5.6" fill="#fff" stroke="#3a3a3a" stroke-width="0.8"/>
<rect x="472.12" y="242.55" width="5.6" height="5.6" fill="#fff" stroke="#3a3a3a" stroke-width="0.8"/>
<rect x="475.11" y="243.35" width="5.6" height="5.6" fill="#fff" stroke="#3a3a3a" stroke-width="0.8"/>
<rect x="478.10" y="244.19" width="5.6" height="5.6" fill="#fff" stroke="#3a3a3a" stroke-width="0.8"/>
<rect x="481.08" y="245.06" width="5.6" height="5.6" fill="#fff" stroke="#3a3a3a" stroke-width="0.8"/>
<rect x="484.07" y="245.97" width="5.6" height="5.6" fill="#fff" stroke="#3a3a3a" stroke-width="0.8"/>
<rect x="487.06" y="246.92" width="5.6" height="5.6" fill="#fff" stroke="#3a3a3a" stroke-width="0.8"/>
<rect x="490.05" y="247.90" width="5.6" height="5.6" fill="#fff" stroke="#3a3a3a" stroke-width="0.8"/>
<rect x="493.04" y="248.92" width="5.6" height="5.6" fill="#fff" stroke="#3a3a3a" stroke-width="0.8"/>
<rect x="496.02" y="249.98" width="5.6" height="5.6" fill="#fff" stroke="#3a3a3a" stroke-width="0.8"/>
<rect x="499.01" y="251.07" width="5.6" height="5.6" fill="#fff" stroke="#3a3a3a" stroke-width="0.8"/>
<rect x="502.00" y="252.20" width="5.6" height="5.6" fill="#fff" stroke="#3a3a3a" stroke-width="0.8"/>
<circle cx="307.60" cy="331.00" r="3.2" fill="#fff" stroke="#3a3a3a" stroke-width="0.8"/>
<circle cx="310.73" cy="329.97" r="3.2" fill="#fff" stroke="#3a3a3a" stroke-width="0.8"/>
<circle cx="313.86" cy="328.97" r="3.2" fill="#fff" stroke="#3a3a3a" stroke-width="0.8"/>
<circle cx="316.99" cy="328.01" r="3.2" fill="#fff" stroke="#3a3a3a" stroke-width="0.8"/>
<circle cx="320.12" cy="327.08" r="3.2" fill="#fff" stroke="#3a3a3a" stroke-width="0.8"/>
<circle cx="323.25" cy="326.18" r="3.2" fill="#fff" stroke="#3a3a3a" stroke-width="0.8"/>
<circle cx="326.38" cy="325.31" r="3.2" fill="#fff" stroke="#3a3a3a" stroke-width="0.8"/>
<circle cx="329.51" cy="324.48" r="3.2" fill="#fff" stroke="#3a3a3a" stroke-width="0.8"/>
<circle cx="332.64" cy="323.68" r="3.2" fill="#fff" stroke="#3a3a3a" stroke-width="0.8"/>
<circle cx="335.77" cy="322.92" r="3.2" fill="#fff" stroke="#3a3a3a" stroke-width="0.8"/>
<circle cx="338.90" cy="322.19" r="3.2" fill="#fff" stroke="#3a3a3a" stroke-width="0.8"/>
<circle cx="342.03" cy="321.49" r="3.2" fill="#fff" stroke="#3a3a3a" stroke-width="0.8"/>
<circle cx="345.16" cy="320.82" r="3.2" fill="#fff" stroke="#3a3a3a" stroke-width="0.8"/>
<circle cx="348.29" cy="320.19" r="3.2" fill="#fff" stroke="#3a3a3a" stroke-width="0.8"/>
<circle cx="351.42" cy="319.59" r="3.2" fill="#fff" stroke="#3a3a3a" stroke-width="0.8"/>
<circle cx="354.55" cy="319.03" r="3.2" fill="#fff" stroke="#3a3a3a" stroke-width="0.8"/>
<circle cx="357.68" cy="318.50" r="3.2" fill="#fff" stroke="#3a3a3a" stroke-width="0.8"/>
<circle cx="360.81" cy="318.00" r="3.2" fill="#fff" stroke="#3a3a3a" stroke-width="0.8"/>
<circle cx="363.94" cy="317.53" r="3.2" fill="#fff" stroke="#3a3a3a" stroke-width="0.8"/>
<circle cx="367.07" cy="317.10" r="3.2" fill="#fff" stroke="#3a3a3a" stroke-width="0.8"/>
<circle cx="370.20" cy="316.70" r="3.2" fill="#fff" stroke="#3a3a3a" stroke-width="0.8"/>
<circle cx="373.33" cy="316.33" r="3.2" fill="#fff" stroke="#3a3a3a" stroke-width="0.8"/>
<circle cx="376.46" cy="316.00" r="3.2" fill="#fff" stroke="#3a3a3a" stroke-width="0.8"/>
<circle cx="379.59" cy="315.70" r="3.2" fill="#fff" stroke="#3a3a3a" stroke-width="0.8"/>
<circle cx="382.72" cy="315.44" r="3.2" fill="#fff" stroke="#3a3a3a" stroke-width="0.8"/>
<circle cx="385.85" cy="315.20" r="3.2" fill="#fff" stroke="#3a3a3a" stroke-width="0.8"/>
<circle cx="388.98" cy="315.00" r="3.2" fill="#fff" stroke="#3a3a3a" stroke-width="0.8"/>
<circle cx="392.11" cy="314.84" r="3.2" fill="#fff" stroke="#3a3a3a" stroke-width="0.8"/>
<circle cx="395.24" cy="314.70" r="3.2" fill="#fff" stroke="#3a3a3a" stroke-width="0.8"/>
<circle cx="398.37" cy="314.60" r="3.2" fill="#fff" stroke="#3a3a3a" stroke-width="0.8"/>
<circle cx="401.50" cy="314.54" r="3.2" fill="#fff" stroke="#3a3a3a" stroke-width="0.8"/>
<circle cx="404.63" cy="314.50" r="3.2" fill="#fff" stroke="#3a3a3a" stroke-width="0.8"/>
<circle cx="407.77" cy="314.50" r="3.2" fill="#fff" stroke="#3a3a3a" stroke-width="0.8"/>
<circle cx="410.90" cy="314.54" r="3.2" fill="#fff" stroke="#3a3a3a" stroke-width="0.8"/>
<circle cx="414.03" cy="314.60" r="3.2" fill="#fff" stroke="#3a3a3a" stroke-width="0.8"/>
<circle cx="417.16" cy="314.70" r="3.2" fill="#fff" stroke="#3a3a3a" stroke-width="0.8"/>
<circle cx="420.29" cy="314.84" r="3.2" fill="#fff" stroke="#3a3a3a" stroke-width="0.8"/>
<circle cx="423.42" cy="315.00" r="3.2" fill="#fff" stroke="#3a3a3a" stroke-width="0.8"/>
<circle cx="426.55" cy="315.20" r="3.2" fill="#fff" stroke="#3a3a3a" stroke-width="0.8"/>
<circle cx="429.68" cy="315.44" r="3.2" fill="#fff" stroke="#3a3a3a" stroke-width="0.8"/>
<circle cx="432.81" cy="315.70" r="3.2" fill="#fff" stroke="#3a3a3a" stroke-width="0.8"/>
<circle cx="435.94" cy="316.00" r="3.2" fill="#fff" stroke="#3a3a3a" stroke-width="0.8"/>
<circle cx="439.07" cy="316.33" r="3.2" fill="#fff" stroke="#3a3a3a" stroke-width="0.8"/>
<circle cx="442.20" cy="316.70" r="3.2" fill="#fff" stroke="#3a3a3a" stroke-width="0.8"/>
<circle cx="445.33" cy="317.10" r="3.2" fill="#fff" stroke="#3a3a3a" stroke-width="0.8"/>
<circle cx="448.46" cy="317.53" r="3.2" fill="#fff" stroke="#3a3a3a" stroke-width="0.8"/>
<circle cx="451.59" cy="318.00" r="3.2" fill="#fff" stroke="#3a3a3a" stroke-width="0.8"/>
<circle cx="454.72" cy="318.50" r="3.2" fill="#fff" stroke="#3a3a3a" stroke-width="0.8"/>
<circle cx="457.85" cy="319.03" r="3.2" fill="#fff" stroke="#3a3a3a" stroke-width="0.8"/>
<circle cx="460.98" cy="319.59" r="3.2" fill="#fff" stroke="#3a3a3a" stroke-width="0.8"/>
<circle cx="464.11" cy="320.19" r="3.2" fill="#fff" stroke="#3a3a3a" stroke-width="0.8"/>
<circle cx="467.24" cy="320.82" r="3.2" fill="#fff" stroke="#3a3a3a" stroke-width="0.8"/>
<circle cx="470.37" cy="321.49" r="3.2" fill="#fff" stroke="#3a3a3a" stroke-width="0.8"/>
<circle cx="473.50" cy="322.19" r="3.2" fill="#fff" stroke="#3a3a3a" stroke-width="0.8"/>
<circle cx="476.63" cy="322.92" r="3.2" fill="#fff" stroke="#3a3a3a" stroke-width="0.8"/>
<circle cx="479.76" cy="323.68" r="3.2" fill="#fff" stroke="#3a3a3a" stroke-width="0.8"/>
<circle cx="482.89" cy="324.48" r="3.2" fill="#fff" stroke="#3a3a3a" stroke-width="0.8"/>
<circle cx="486.02" cy="325.31" r="3.2" fill="#fff" stroke="#3a3a3a" stroke-width="0.8"/>
<circle cx="489.15" cy="326.18" r="3.2" fill="#fff" stroke="#3a3a3a" stroke-width="0.8"/>
<circle cx="492.28" cy="327.08" r="3.2" fill="#fff" stroke="#3a3a3a" stroke-width="0.8"/>
<circle cx="495.41" cy="328.01" r="3.2" fill="#fff" stroke="#3a3a3a" stroke-width="0.8"/>
<circle cx="498.54" cy="328.97" r="3.2" fill="#fff" stroke="#3a3a3a" stroke-width="0.8"/>
<circle cx="501.67" cy="329.97" r="3.2" fill="#fff" stroke="#3a3a3a" stroke-width="0.8"/>
<circle cx="504.80" cy="331.00" r="3.2" fill="#fff" stroke="#3a3a3a" stroke-width="0.8"/>
</g>
<rect x="308.8" y="217.2" width="196.2" height="149.60000000000002" fill="none" stroke="#000" stroke-width="1.5"/>
<path d="M308.8,235.50h7 M308.8,263.00h7 M308.8,290.50h7 M308.8,320.50h7 M308.8,347.50h7" stroke="#000" stroke-width="1.3" fill="none"/>
<path d="M308.8,221.75h3.5 M308.8,249.25h3.5 M308.8,276.75h3.5 M308.8,306.50h3.5 M308.8,334.00h3.5 M308.8,361.50h3.5" stroke="#000" stroke-width="1.3" fill="none"/>
<path d="M317.46,366.8v-7 M347.04,366.8v-7 M376.62,366.8v-7 M406.20,366.8v-7 M435.78,366.8v-7 M465.36,366.8v-7 M494.94,366.8v-7" stroke="#000" stroke-width="1.3" fill="none"/>
<path d="M332.25,366.8v-3.5 M361.83,366.8v-3.5 M391.41,366.8v-3.5 M420.99,366.8v-3.5 M450.57,366.8v-3.5 M480.15,366.8v-3.5" stroke="#000" stroke-width="1.3" fill="none"/>
<text x="302" y="239.75" text-anchor="end" font-family="Liberation Sans,sans-serif" font-weight="bold" font-size="11.8" fill="#000">4860</text>
<text x="302" y="267.25" text-anchor="end" font-family="Liberation Sans,sans-serif" font-weight="bold" font-size="11.8" fill="#000">4830</text>
<text x="302" y="294.75" text-anchor="end" font-family="Liberation Sans,sans-serif" font-weight="bold" font-size="11.8" fill="#000">4800</text>
<text x="302" y="324.75" text-anchor="end" font-family="Liberation Sans,sans-serif" font-weight="bold" font-size="11.8" fill="#000">1050</text>
<text x="302" y="351.75" text-anchor="end" font-family="Liberation Sans,sans-serif" font-weight="bold" font-size="11.8" fill="#000">1020</text>
<text x="317.46" y="383.4" text-anchor="middle" font-family="Liberation Sans,sans-serif" font-weight="bold" font-size="11.8" fill="#000">-900</text>
<text x="347.04" y="383.4" text-anchor="middle" font-family="Liberation Sans,sans-serif" font-weight="bold" font-size="11.8" fill="#000">-600</text>
<text x="376.62" y="383.4" text-anchor="middle" font-family="Liberation Sans,sans-serif" font-weight="bold" font-size="11.8" fill="#000">-300</text>
<text x="406.20" y="383.4" text-anchor="middle" font-family="Liberation Sans,sans-serif" font-weight="bold" font-size="11.8" fill="#000">0</text>
<text x="435.78" y="383.4" text-anchor="middle" font-family="Liberation Sans,sans-serif" font-weight="bold" font-size="11.8" fill="#000">300</text>
<text x="465.36" y="383.4" text-anchor="middle" font-family="Liberation Sans,sans-serif" font-weight="bold" font-size="11.8" fill="#000">600</text>
<text x="494.94" y="383.4" text-anchor="middle" font-family="Liberation Sans,sans-serif" font-weight="bold" font-size="11.8" fill="#000">900</text>
<path d="M302.8,292.2L314.3,288.6M302.8,294.6L314.3,291" stroke="#000" stroke-width="1.4" fill="none"/>
<path d="M338.7,274.5H349.2M360.8,274.5H370.8M338.7,292.4H349.2M360.8,292.4H370.8" stroke="#3a3a3a" stroke-width="0.9" fill="none"/>
<rect x="351.9" y="271.2" width="6.2" height="6.2" fill="#fff" stroke="#333" stroke-width="0.9"/>
<circle cx="355" cy="292.4" r="3.3" fill="#fff" stroke="#333" stroke-width="0.9"/>
<text x="375.2" y="278.3" font-family="Liberation Serif,serif" font-weight="bold" font-size="13.3" fill="#000">up magnetized</text>
<text x="375.2" y="296.2" font-family="Liberation Serif,serif" font-weight="bold" font-size="13.3" fill="#000">down magnetized</text>
<text transform="translate(268.6,304.5) rotate(-90)" text-anchor="middle" font-family="Liberation Serif,serif" font-weight="bold" font-size="14.5" fill="#000">V<tspan font-family="Liberation Sans,sans-serif" font-size="7" dy="6">ω</tspan><tspan dy="-6">(μV)</tspan></text>
<text transform="translate(408.5,398.2) scale(0.915,1)" text-anchor="middle" font-family="Liberation Serif,serif" font-weight="bold" font-size="15" fill="#000">H<tspan font-family="Liberation Sans,sans-serif" font-size="8.2" dy="4">y</tspan><tspan dy="-4">(Oe)</tspan></text>
<text x="473" y="353.4" font-family="Liberation Serif,serif" font-size="18.5" fill="#111">(d)</text>
<clipPath id="clipe"><rect x="49.9" y="413.9" width="198.29999999999998" height="149.30000000000007"/></clipPath>
<g clip-path="url(#clipe)">
<path d="M53.8,448.1 L59.9,441.3 L66.3,461.2 L71.1,448.1 L74.9,446.5 L78.4,455.4 L81.7,456.7 L85.5,453.8 L90.3,461.9 L94.2,453.8 L98.4,456.7 L102.2,455.4 L105.7,466.9 L109.5,464.4 L114.3,461.5 L120.1,460.6 L123.4,466.3 L129.7,471.2 L134.2,467.3 L138.4,472.7 L145.1,466.9 L150.9,468.8 L156.7,477.5 L160.5,470.8 L166.3,478.5 L171.1,479.4 L176.8,478.5 L181.7,483.8 L186.5,481.3 L191.3,484.6 L196.1,484.6 L201.8,488.5 L205.7,482.3 L209.5,489.6 L214.3,491.9 L219.2,494.2 L224.0,492.3 L226.8,492.9 L230.7,500.0 L234.5,492.9 L238.4,494.2 L243.2,495.8" fill="none" stroke="#666" stroke-width="0.5"/>
<path d="M51.8,486.2 L55.7,483.7 L58.6,489.4 L61.5,491.3 L64.3,493.8 L67.2,486.5 L70.1,491.3 L73.0,489.4 L76.5,497.1 L79.7,491.3 L82.6,493.3 L86.1,491.9 L89.3,496.2 L93.2,497.7 L97.6,497.7 L100.9,496.2 L103.8,497.7 L107.2,496.5 L109.9,501.0 L113.4,498.1 L116.3,500.4 L119.2,507.3 L122.0,507.3 L125.9,502.9 L129.7,503.5 L133.6,504.2 L137.4,505.8 L140.3,508.7 L144.2,504.2 L149.0,507.3 L152.8,506.3 L158.6,515.0 L164.9,504.4 L168.2,510.8 L172.0,512.1 L176.8,511.5 L181.1,514.6 L184.5,513.1 L188.4,514.6 L192.6,513.1 L195.7,522.3 L201.5,511.2 L204.7,517.3 L208.0,519.2 L211.5,520.8 L214.3,516.9 L217.2,519.8 L220.1,521.7 L222.6,510.8 L225.9,521.7 L228.8,528.5 L231.7,520.4 L234.5,527.5 L238.0,521.7 L241.3,520.8 L244.2,519.8" fill="none" stroke="#666" stroke-width="0.5"/>
<rect x="51.02" y="445.33" width="5.5" height="5.5" fill="#000"/>
<rect x="57.17" y="438.60" width="5.5" height="5.5" fill="#000"/>
<rect x="63.52" y="458.40" width="5.5" height="5.5" fill="#000"/>
<rect x="68.33" y="445.33" width="5.5" height="5.5" fill="#000"/>
<rect x="72.17" y="443.79" width="5.5" height="5.5" fill="#000"/>
<rect x="75.63" y="452.63" width="5.5" height="5.5" fill="#000"/>
<rect x="78.90" y="453.98" width="5.5" height="5.5" fill="#000"/>
<rect x="82.75" y="451.10" width="5.5" height="5.5" fill="#000"/>
<rect x="87.56" y="459.17" width="5.5" height="5.5" fill="#000"/>
<rect x="91.40" y="451.10" width="5.5" height="5.5" fill="#000"/>
<rect x="95.63" y="453.98" width="5.5" height="5.5" fill="#000"/>
<rect x="99.48" y="452.63" width="5.5" height="5.5" fill="#000"/>
<rect x="102.94" y="464.17" width="5.5" height="5.5" fill="#000"/>
<rect x="106.79" y="461.67" width="5.5" height="5.5" fill="#000"/>
<rect x="111.60" y="458.79" width="5.5" height="5.5" fill="#000"/>
<rect x="117.37" y="457.83" width="5.5" height="5.5" fill="#000"/>
<rect x="120.63" y="463.60" width="5.5" height="5.5" fill="#000"/>
<rect x="126.98" y="468.40" width="5.5" height="5.5" fill="#000"/>
<rect x="131.40" y="464.56" width="5.5" height="5.5" fill="#000"/>
<rect x="135.63" y="469.94" width="5.5" height="5.5" fill="#000"/>
<rect x="142.37" y="464.17" width="5.5" height="5.5" fill="#000"/>
<rect x="148.13" y="466.10" width="5.5" height="5.5" fill="#000"/>
<rect x="153.90" y="474.75" width="5.5" height="5.5" fill="#000"/>
<rect x="157.75" y="468.02" width="5.5" height="5.5" fill="#000"/>
<rect x="163.52" y="475.71" width="5.5" height="5.5" fill="#000"/>
<rect x="168.33" y="476.67" width="5.5" height="5.5" fill="#000"/>
<rect x="174.10" y="475.71" width="5.5" height="5.5" fill="#000"/>
<rect x="178.90" y="481.10" width="5.5" height="5.5" fill="#000"/>
<rect x="183.71" y="478.60" width="5.5" height="5.5" fill="#000"/>
<rect x="188.52" y="481.87" width="5.5" height="5.5" fill="#000"/>
<rect x="193.33" y="481.87" width="5.5" height="5.5" fill="#000"/>
<rect x="199.10" y="485.71" width="5.5" height="5.5" fill="#000"/>
<rect x="202.94" y="479.56" width="5.5" height="5.5" fill="#000"/>
<rect x="206.79" y="486.87" width="5.5" height="5.5" fill="#000"/>
<rect x="211.60" y="489.17" width="5.5" height="5.5" fill="#000"/>
<rect x="216.40" y="491.48" width="5.5" height="5.5" fill="#000"/>
<rect x="221.21" y="489.56" width="5.5" height="5.5" fill="#000"/>
<rect x="224.10" y="490.13" width="5.5" height="5.5" fill="#000"/>
<rect x="227.94" y="497.25" width="5.5" height="5.5" fill="#000"/>
<rect x="231.79" y="490.13" width="5.5" height="5.5" fill="#000"/>
<rect x="235.63" y="491.48" width="5.5" height="5.5" fill="#000"/>
<rect x="240.44" y="493.02" width="5.5" height="5.5" fill="#000"/>
<circle cx="51.85" cy="486.15" r="3.2" fill="#000"/>
<circle cx="55.69" cy="483.65" r="3.2" fill="#000"/>
<circle cx="58.58" cy="489.42" r="3.2" fill="#000"/>
<circle cx="61.46" cy="491.35" r="3.2" fill="#000"/>
<circle cx="64.35" cy="493.85" r="3.2" fill="#000"/>
<circle cx="67.23" cy="486.54" r="3.2" fill="#000"/>
<circle cx="70.12" cy="491.35" r="3.2" fill="#000"/>
<circle cx="73.00" cy="489.42" r="3.2" fill="#000"/>
<circle cx="76.46" cy="497.12" r="3.2" fill="#000"/>
<circle cx="79.73" cy="491.35" r="3.2" fill="#000"/>
<circle cx="82.62" cy="493.27" r="3.2" fill="#000"/>
<circle cx="86.08" cy="491.92" r="3.2" fill="#000"/>
<circle cx="89.35" cy="496.15" r="3.2" fill="#000"/>
<circle cx="93.19" cy="497.69" r="3.2" fill="#000"/>
<circle cx="97.62" cy="497.69" r="3.2" fill="#000"/>
<circle cx="100.88" cy="496.15" r="3.2" fill="#000"/>
<circle cx="103.77" cy="497.69" r="3.2" fill="#000"/>
<circle cx="107.23" cy="496.54" r="3.2" fill="#000"/>
<circle cx="109.92" cy="500.96" r="3.2" fill="#000"/>
<circle cx="113.38" cy="498.08" r="3.2" fill="#000"/>
<circle cx="116.27" cy="500.38" r="3.2" fill="#000"/>
<circle cx="119.15" cy="507.31" r="3.2" fill="#000"/>
<circle cx="122.04" cy="507.31" r="3.2" fill="#000"/>
<circle cx="125.88" cy="502.88" r="3.2" fill="#000"/>
<circle cx="129.73" cy="503.46" r="3.2" fill="#000"/>
<circle cx="133.58" cy="504.23" r="3.2" fill="#000"/>
<circle cx="137.42" cy="505.77" r="3.2" fill="#000"/>
<circle cx="140.31" cy="508.65" r="3.2" fill="#000"/>
<circle cx="144.15" cy="504.23" r="3.2" fill="#000"/>
<circle cx="148.96" cy="507.31" r="3.2" fill="#000"/>
<circle cx="152.81" cy="506.35" r="3.2" fill="#000"/>
<circle cx="158.58" cy="515.00" r="3.2" fill="#000"/>
<circle cx="164.92" cy="504.42" r="3.2" fill="#000"/>
<circle cx="168.19" cy="510.77" r="3.2" fill="#000"/>
<circle cx="172.04" cy="512.12" r="3.2" fill="#000"/>
<circle cx="176.85" cy="511.54" r="3.2" fill="#000"/>
<circle cx="181.08" cy="514.62" r="3.2" fill="#000"/>
<circle cx="184.54" cy="513.08" r="3.2" fill="#000"/>
<circle cx="188.38" cy="514.62" r="3.2" fill="#000"/>
<circle cx="192.62" cy="513.08" r="3.2" fill="#000"/>
<circle cx="195.69" cy="522.31" r="3.2" fill="#000"/>
<circle cx="201.46" cy="511.15" r="3.2" fill="#000"/>
<circle cx="204.73" cy="517.31" r="3.2" fill="#000"/>
<circle cx="208.00" cy="519.23" r="3.2" fill="#000"/>
<circle cx="211.46" cy="520.77" r="3.2" fill="#000"/>
<circle cx="214.35" cy="516.92" r="3.2" fill="#000"/>
<circle cx="217.23" cy="519.81" r="3.2" fill="#000"/>
<circle cx="220.12" cy="521.73" r="3.2" fill="#000"/>
<circle cx="222.62" cy="510.77" r="3.2" fill="#000"/>
<circle cx="225.88" cy="521.73" r="3.2" fill="#000"/>
<circle cx="228.77" cy="528.46" r="3.2" fill="#000"/>
<circle cx="231.65" cy="520.38" r="3.2" fill="#000"/>
<circle cx="234.54" cy="527.50" r="3.2" fill="#000"/>
<circle cx="238.00" cy="521.73" r="3.2" fill="#000"/>
<circle cx="241.27" cy="520.77" r="3.2" fill="#000"/>
<circle cx="244.15" cy="519.81" r="3.2" fill="#000"/>
<line x1="49.9" y1="486" x2="246.7" y2="533.5" stroke="#e6141b" stroke-width="3.6"/>
<line x1="49.9" y1="446.2" x2="246.7" y2="498" stroke="#0b1fd6" stroke-width="3.6"/>
</g>
<rect x="49.9" y="413.9" width="196.79999999999998" height="149.30000000000007" fill="none" stroke="#000" stroke-width="1.5"/>
<path d="M49.9,437.50h6.5 M49.9,488.00h6.5 M49.9,538.50h6.5" stroke="#000" stroke-width="1.3" fill="none"/>
<path d="M49.9,462.75h3.5 M49.9,513.25h3.5" stroke="#000" stroke-width="1.3" fill="none"/>
<path d="M98.65,563.2v-6.5 M148.00,563.2v-6.5 M197.35,563.2v-6.5" stroke="#000" stroke-width="1.3" fill="none"/>
<path d="M73.98,563.2v-3.5 M123.33,563.2v-3.5 M172.68,563.2v-3.5 M222.02,563.2v-3.5" stroke="#000" stroke-width="1.3" fill="none"/>
<text x="44.2" y="441.93" text-anchor="end" font-family="Liberation Sans,sans-serif" font-weight="bold" font-size="12.3" fill="#000">0.3</text>
<text x="44.2" y="492.43" text-anchor="end" font-family="Liberation Sans,sans-serif" font-weight="bold" font-size="12.3" fill="#000">0.2</text>
<text x="44.2" y="542.93" text-anchor="end" font-family="Liberation Sans,sans-serif" font-weight="bold" font-size="12.3" fill="#000">0.1</text>
<text x="49.30" y="579" text-anchor="middle" font-family="Liberation Sans,sans-serif" font-weight="bold" font-size="11.8" fill="#000">-1000</text>
<text x="98.65" y="579" text-anchor="middle" font-family="Liberation Sans,sans-serif" font-weight="bold" font-size="11.8" fill="#000">-500</text>
<text x="148.00" y="579" text-anchor="middle" font-family="Liberation Sans,sans-serif" font-weight="bold" font-size="11.8" fill="#000">0</text>
<text x="197.35" y="579" text-anchor="middle" font-family="Liberation Sans,sans-serif" font-weight="bold" font-size="11.8" fill="#000">500</text>
<text x="246.70" y="579" text-anchor="middle" font-family="Liberation Sans,sans-serif" font-weight="bold" font-size="11.8" fill="#000">1000</text>
<path d="M98.5,422.9H109.0M120.6,422.9H130.6M98.5,440.79999999999995H109.0M120.6,440.79999999999995H130.6" stroke="#3a3a3a" stroke-width="0.9" fill="none"/>
<rect x="112.0" y="420.09999999999997" width="5.6" height="5.6" fill="#000"/>
<circle cx="114.8" cy="440.79999999999995" r="3.0" fill="#000"/>
<text x="135.0" y="426.70000000000005" font-family="Liberation Serif,serif" font-weight="bold" font-size="13.3" fill="#000">up magnetized</text>
<text x="135.0" y="444.6" font-family="Liberation Serif,serif" font-weight="bold" font-size="13.3" fill="#000">down magnetized</text>
<text transform="translate(18,493.7) rotate(-90)" text-anchor="middle" font-family="Liberation Serif,serif" font-weight="bold" font-size="15" fill="#000">V<tspan font-family="Liberation Sans,sans-serif" font-size="6.5" dy="6">2ω</tspan><tspan dy="-6">(μV)</tspan></text>
<text transform="translate(149.5,593.7) scale(0.915,1)" text-anchor="middle" font-family="Liberation Serif,serif" font-weight="bold" font-size="15" fill="#000">H<tspan font-family="Liberation Sans,sans-serif" font-size="8.2" dy="4">x</tspan><tspan dy="-4">(Oe)</tspan></text>
<text x="209" y="556" font-family="Liberation Serif,serif" font-size="18.5" fill="#111">(e)</text>
<clipPath id="clipf"><rect x="309.4" y="413.9" width="197.90000000000003" height="149.70000000000005"/></clipPath>
<g clip-path="url(#clipf)">
<path d="M312.0,428.9 L316.6,430.1 L323.6,441.7 L329.4,434.0 L335.2,445.2 L341.0,439.4 L345.6,445.2 L353.7,437.7 L359.5,452.1 L363.0,447.5 L366.5,455.6 L372.3,451.0 L379.2,456.8 L385.0,456.3 L390.8,470.2 L393.2,458.6 L399.0,461.4 L403.6,469.5 L409.0,462.6 L414.7,471.9 L421.2,483.4 L424.2,473.3 L428.2,479.4 L433.3,474.3 L437.3,481.4 L442.4,478.0 L447.4,488.5 L452.5,489.5 L457.9,486.9 L463.6,498.6 L468.6,497.0 L474.7,501.6 L479.7,502.6 L484.8,505.1 L489.8,501.6 L494.9,506.3 L498.9,506.7 L503.6,511.1" fill="none" stroke="#666" stroke-width="0.5"/>
<path d="M309.2,533.3 L312.0,525.9 L315.4,530.5 L318.9,528.7 L322.4,528.2 L325.4,526.4 L328.2,529.2 L334.0,527.5 L339.8,523.6 L343.3,521.3 L347.9,522.2 L354.9,524.0 L360.7,512.9 L364.2,512.0 L367.6,515.2 L373.4,518.2 L379.2,516.6 L382.7,510.6 L388.5,504.3 L393.2,505.5 L397.8,501.3 L403.6,502.7 L410.1,498.6 L416.1,504.2 L419.5,494.5 L424.2,497.0 L429.2,494.9 L431.7,486.5 L434.9,497.6 L439.3,488.5 L444.4,485.5 L448.4,490.1 L454.5,484.0 L459.5,487.5 L464.6,486.1 L467.6,477.4 L471.7,473.3 L476.7,476.4 L480.8,470.3 L483.4,475.4 L486.8,470.3 L490.9,470.3 L493.5,458.2 L496.9,464.2 L502.4,470.3 L505.0,456.6" fill="none" stroke="#666" stroke-width="0.5"/>
<rect x="309.21" y="426.17" width="5.5" height="5.5" fill="#000"/>
<rect x="313.85" y="427.33" width="5.5" height="5.5" fill="#000"/>
<rect x="320.81" y="438.93" width="5.5" height="5.5" fill="#000"/>
<rect x="326.61" y="431.28" width="5.5" height="5.5" fill="#000"/>
<rect x="332.41" y="442.41" width="5.5" height="5.5" fill="#000"/>
<rect x="338.21" y="436.61" width="5.5" height="5.5" fill="#000"/>
<rect x="342.85" y="442.41" width="5.5" height="5.5" fill="#000"/>
<rect x="350.97" y="434.99" width="5.5" height="5.5" fill="#000"/>
<rect x="356.77" y="449.37" width="5.5" height="5.5" fill="#000"/>
<rect x="360.25" y="444.73" width="5.5" height="5.5" fill="#000"/>
<rect x="363.73" y="452.85" width="5.5" height="5.5" fill="#000"/>
<rect x="369.54" y="448.21" width="5.5" height="5.5" fill="#000"/>
<rect x="376.50" y="454.01" width="5.5" height="5.5" fill="#000"/>
<rect x="382.30" y="453.55" width="5.5" height="5.5" fill="#000"/>
<rect x="388.10" y="467.47" width="5.5" height="5.5" fill="#000"/>
<rect x="390.42" y="455.87" width="5.5" height="5.5" fill="#000"/>
<rect x="396.22" y="458.65" width="5.5" height="5.5" fill="#000"/>
<rect x="400.86" y="466.77" width="5.5" height="5.5" fill="#000"/>
<rect x="406.29" y="459.88" width="5.5" height="5.5" fill="#000"/>
<rect x="411.95" y="469.17" width="5.5" height="5.5" fill="#000"/>
<rect x="418.41" y="480.68" width="5.5" height="5.5" fill="#000"/>
<rect x="421.44" y="470.58" width="5.5" height="5.5" fill="#000"/>
<rect x="425.48" y="476.64" width="5.5" height="5.5" fill="#000"/>
<rect x="430.53" y="471.59" width="5.5" height="5.5" fill="#000"/>
<rect x="434.57" y="478.66" width="5.5" height="5.5" fill="#000"/>
<rect x="439.62" y="475.23" width="5.5" height="5.5" fill="#000"/>
<rect x="444.67" y="485.73" width="5.5" height="5.5" fill="#000"/>
<rect x="449.72" y="486.74" width="5.5" height="5.5" fill="#000"/>
<rect x="455.18" y="484.12" width="5.5" height="5.5" fill="#000"/>
<rect x="460.84" y="495.84" width="5.5" height="5.5" fill="#000"/>
<rect x="465.89" y="494.22" width="5.5" height="5.5" fill="#000"/>
<rect x="471.95" y="498.87" width="5.5" height="5.5" fill="#000"/>
<rect x="477.00" y="499.88" width="5.5" height="5.5" fill="#000"/>
<rect x="482.05" y="502.30" width="5.5" height="5.5" fill="#000"/>
<rect x="487.10" y="498.87" width="5.5" height="5.5" fill="#000"/>
<rect x="492.15" y="503.51" width="5.5" height="5.5" fill="#000"/>
<rect x="496.19" y="503.92" width="5.5" height="5.5" fill="#000"/>
<rect x="500.84" y="508.36" width="5.5" height="5.5" fill="#000"/>
<circle cx="309.18" cy="533.33" r="3.2" fill="#000"/>
<circle cx="311.96" cy="525.90" r="3.2" fill="#000"/>
<circle cx="315.44" cy="530.55" r="3.2" fill="#000"/>
<circle cx="318.92" cy="528.69" r="3.2" fill="#000"/>
<circle cx="322.40" cy="528.23" r="3.2" fill="#000"/>
<circle cx="325.42" cy="526.37" r="3.2" fill="#000"/>
<circle cx="328.20" cy="529.15" r="3.2" fill="#000"/>
<circle cx="334.00" cy="527.53" r="3.2" fill="#000"/>
<circle cx="339.80" cy="523.58" r="3.2" fill="#000"/>
<circle cx="343.28" cy="521.26" r="3.2" fill="#000"/>
<circle cx="347.92" cy="522.19" r="3.2" fill="#000"/>
<circle cx="354.88" cy="524.05" r="3.2" fill="#000"/>
<circle cx="360.68" cy="512.91" r="3.2" fill="#000"/>
<circle cx="364.16" cy="511.98" r="3.2" fill="#000"/>
<circle cx="367.65" cy="515.23" r="3.2" fill="#000"/>
<circle cx="373.45" cy="518.25" r="3.2" fill="#000"/>
<circle cx="379.25" cy="516.62" r="3.2" fill="#000"/>
<circle cx="382.73" cy="510.59" r="3.2" fill="#000"/>
<circle cx="388.53" cy="504.33" r="3.2" fill="#000"/>
<circle cx="393.17" cy="505.49" r="3.2" fill="#000"/>
<circle cx="397.81" cy="501.31" r="3.2" fill="#000"/>
<circle cx="403.61" cy="502.70" r="3.2" fill="#000"/>
<circle cx="410.05" cy="498.59" r="3.2" fill="#000"/>
<circle cx="416.11" cy="504.24" r="3.2" fill="#000"/>
<circle cx="419.55" cy="494.55" r="3.2" fill="#000"/>
<circle cx="424.19" cy="496.97" r="3.2" fill="#000"/>
<circle cx="429.24" cy="494.95" r="3.2" fill="#000"/>
<circle cx="431.67" cy="486.46" r="3.2" fill="#000"/>
<circle cx="434.90" cy="497.58" r="3.2" fill="#000"/>
<circle cx="439.34" cy="488.48" r="3.2" fill="#000"/>
<circle cx="444.39" cy="485.45" r="3.2" fill="#000"/>
<circle cx="448.43" cy="490.10" r="3.2" fill="#000"/>
<circle cx="454.49" cy="484.04" r="3.2" fill="#000"/>
<circle cx="459.55" cy="487.47" r="3.2" fill="#000"/>
<circle cx="464.60" cy="486.06" r="3.2" fill="#000"/>
<circle cx="467.63" cy="477.37" r="3.2" fill="#000"/>
<circle cx="471.67" cy="473.33" r="3.2" fill="#000"/>
<circle cx="476.72" cy="476.36" r="3.2" fill="#000"/>
<circle cx="480.76" cy="470.30" r="3.2" fill="#000"/>
<circle cx="483.38" cy="475.35" r="3.2" fill="#000"/>
<circle cx="486.82" cy="470.30" r="3.2" fill="#000"/>
<circle cx="490.86" cy="470.30" r="3.2" fill="#000"/>
<circle cx="493.48" cy="458.18" r="3.2" fill="#000"/>
<circle cx="496.92" cy="464.24" r="3.2" fill="#000"/>
<circle cx="502.37" cy="470.30" r="3.2" fill="#000"/>
<circle cx="505.00" cy="456.57" r="3.2" fill="#000"/>
<line x1="313" y1="539.75" x2="505.8" y2="462.5" stroke="#e6141b" stroke-width="3.6"/>
<line x1="309.4" y1="429" x2="505.8" y2="511.8" stroke="#0b1fd6" stroke-width="3.6"/>
</g>
<rect x="309.4" y="413.9" width="196.40000000000003" height="149.70000000000005" fill="none" stroke="#000" stroke-width="1.5"/>
<path d="M309.4,413.75h6.5 M309.4,456.25h6.5 M309.4,499.50h6.5 M309.4,542.50h6.5" stroke="#000" stroke-width="1.3" fill="none"/>
<path d="M309.4,435.00h3.5 M309.4,478.00h3.5 M309.4,521.00h3.5" stroke="#000" stroke-width="1.3" fill="none"/>
<path d="M357.95,563.6v-6.5 M407.20,563.6v-6.5 M456.45,563.6v-6.5" stroke="#000" stroke-width="1.3" fill="none"/>
<path d="M333.32,563.6v-3.5 M382.57,563.6v-3.5 M431.82,563.6v-3.5 M481.07,563.6v-3.5" stroke="#000" stroke-width="1.3" fill="none"/>
<text x="302.8" y="418.18" text-anchor="end" font-family="Liberation Sans,sans-serif" font-weight="bold" font-size="12.3" fill="#000">0.4</text>
<text x="302.8" y="460.68" text-anchor="end" font-family="Liberation Sans,sans-serif" font-weight="bold" font-size="12.3" fill="#000">0.3</text>
<text x="302.8" y="503.93" text-anchor="end" font-family="Liberation Sans,sans-serif" font-weight="bold" font-size="12.3" fill="#000">0.2</text>
<text x="302.8" y="546.93" text-anchor="end" font-family="Liberation Sans,sans-serif" font-weight="bold" font-size="12.3" fill="#000">0.1</text>
<text x="308.70" y="579.7" text-anchor="middle" font-family="Liberation Sans,sans-serif" font-weight="bold" font-size="11.8" fill="#000">-1000</text>
<text x="357.95" y="579.7" text-anchor="middle" font-family="Liberation Sans,sans-serif" font-weight="bold" font-size="11.8" fill="#000">-500</text>
<text x="407.20" y="579.7" text-anchor="middle" font-family="Liberation Sans,sans-serif" font-weight="bold" font-size="11.8" fill="#000">0</text>
<text x="456.45" y="579.7" text-anchor="middle" font-family="Liberation Sans,sans-serif" font-weight="bold" font-size="11.8" fill="#000">500</text>
<text x="505.70" y="579.7" text-anchor="middle" font-family="Liberation Sans,sans-serif" font-weight="bold" font-size="11.8" fill="#000">1000</text>
<path d="M365.3,421.5H375.8M387.40000000000003,421.5H397.40000000000003M365.3,439.4H375.8M387.40000000000003,439.4H397.40000000000003" stroke="#3a3a3a" stroke-width="0.9" fill="none"/>
<rect x="378.8" y="418.7" width="5.6" height="5.6" fill="#000"/>
<circle cx="381.6" cy="439.4" r="3.0" fill="#000"/>
<text x="401.8" y="425.3" font-family="Liberation Serif,serif" font-weight="bold" font-size="13.3" fill="#000">up magnetized</text>
<text x="401.8" y="443.2" font-family="Liberation Serif,serif" font-weight="bold" font-size="13.3" fill="#000">down magnetized</text>
<text transform="translate(276,493) rotate(-90)" text-anchor="middle" font-family="Liberation Serif,serif" font-weight="bold" font-size="15" fill="#000">V<tspan font-family="Liberation Sans,sans-serif" font-size="6.5" dy="6">2ω</tspan><tspan dy="-6">(μV)</tspan></text>
<text transform="translate(409.1,593.7) scale(0.915,1)" text-anchor="middle" font-family="Liberation Serif,serif" font-weight="bold" font-size="15" fill="#000">H<tspan font-family="Liberation Sans,sans-serif" font-size="8.2" dy="4">y</tspan><tspan dy="-4">(Oe)</tspan></text>
<text x="473.6" y="558.3" font-family="Liberation Serif,serif" font-size="18.5" fill="#111">(f)</text>
</svg>
</body></html>
